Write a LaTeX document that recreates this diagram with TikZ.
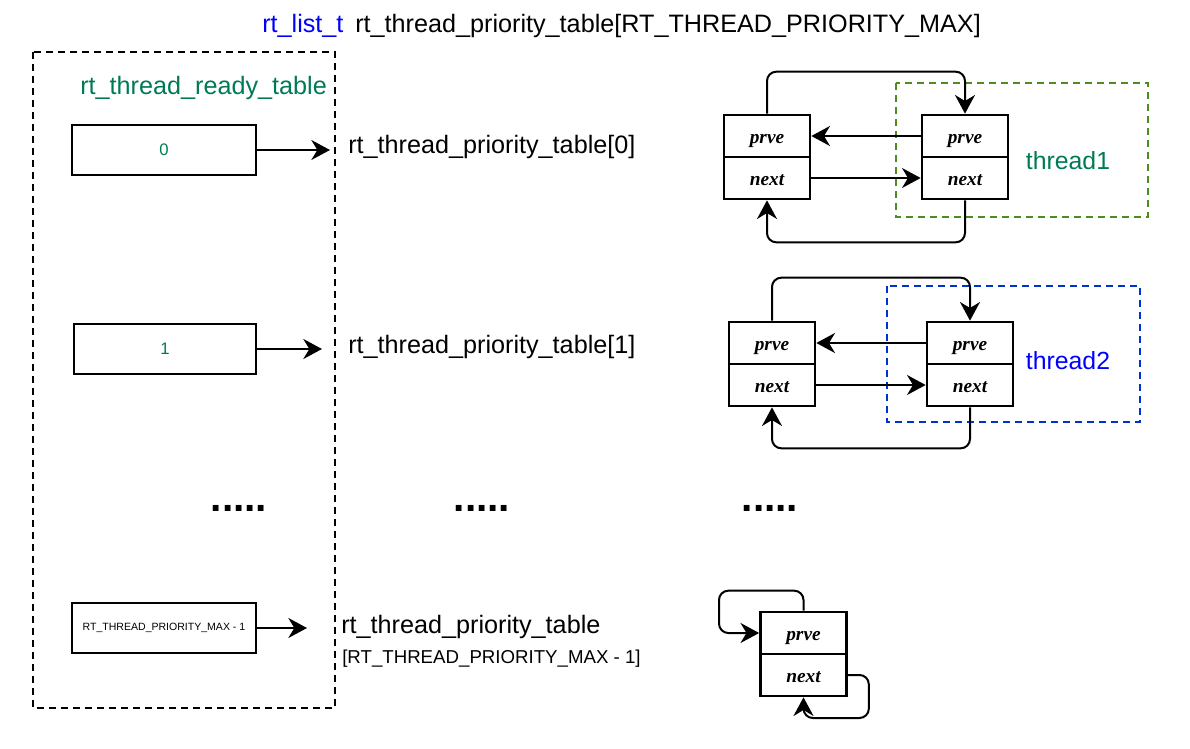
\documentclass[tikz,border=0pt]{standalone}
\usepackage{fontspec}
\setmainfont{Liberation Sans}
\newfontfamily\sketchfont{Liberation Serif}
\usetikzlibrary{arrows.meta}
\definecolor{tgreen}{RGB}{0,122,85}
\definecolor{lgreen}{RGB}{77,140,30}
\definecolor{dblue}{RGB}{0,51,204}
\definecolor{tblue}{RGB}{0,0,255}
\begin{document}
\begin{tikzpicture}[x=0.75pt,y=-0.75pt,
  arr/.style={-{Stealth[length=14pt,width=15pt,inset=4.5pt]}, line width=1.5pt},
  loopline/.style={arr, rounded corners=7pt},
  tab/.style={draw, line width=1.5pt, minimum width=138pt, minimum height=37.5pt, inner sep=0pt},
  cell/.style={draw, fill=white, line width=2pt, minimum width=64.5pt, minimum height=31.5pt, inner sep=0pt, text height=11pt, text depth=0pt, font=\sketchfont\bfseries\itshape\fontsize{14.5}{14}\selectfont},
  lbl/.style={inner sep=0pt, anchor=west, font=\fontsize{18.9}{20}\selectfont},
  dotsnode/.style={inner sep=0pt, font=\bfseries\fontsize{30.5}{30}\selectfont},
  frame/.style={line width=1.2pt, dash pattern=on 5pt off 4pt},
]
\useasboundingbox (0,0) rectangle (1190,749);

% title
\node[lbl, text=tblue] (tlist) at (262,26) {rt\_list\_t};
\node[lbl] (ttitle) at (355,26) {rt\_thread\_priority\_table[RT\_THREAD\_PRIORITY\_MAX]};

% ready table frame
\draw[frame] (33,52) rectangle (335,708);
\node[lbl, text=tgreen] (rdy) at (80,88) {rt\_thread\_ready\_table};

% table boxes
\node[tab, text=tgreen, font=\fontsize{12.5}{12}\selectfont] (t0) at (164,150) {0};
\node[tab, text=tgreen, font=\fontsize{12.5}{12}\selectfont, minimum width=136.5pt] (t1) at (165,349) {1};
\node[tab, font=\fontsize{7.9}{8}\selectfont] (tm) at (164,628) {RT\_THREAD\_PRIORITY\_MAX - 1};

\coordinate (a0) at (330,150);
\coordinate (a1) at (322,349);
\coordinate (am) at (307,628);
\draw[arr] (t0.east) -- (a0);
\draw[arr] (t1.east) -- (a1);
\draw[arr] (tm.east) -- (am);

\node[lbl] (L0) at (348,147) {rt\_thread\_priority\_table[0]};
\node[lbl] (L1) at (348,347) {rt\_thread\_priority\_table[1]};
\node[lbl] (Lm) at (341,627) {rt\_thread\_priority\_table};
\node[lbl, font=\fontsize{14}{16}\selectfont] (Lm2) at (342,659) {[RT\_THREAD\_PRIORITY\_MAX - 1]};

% dots
\node[dotsnode] (d1) at (239,508) {.....};
\node[dotsnode] (d2) at (482,508) {.....};
\node[dotsnode] (d3) at (770,508) {.....};

% thread frames
\draw[frame, draw=lgreen, line width=1.1pt, dash pattern=on 5.5pt off 3.5pt] (896,83) rectangle (1148,217);
\node[inner sep=0pt, text=tgreen, font=\fontsize{18.6}{20}\selectfont] (th1) at (1068,161) {thread1};
\draw[frame, draw=dblue, line width=1.1pt, dash pattern=on 5.5pt off 3.5pt] (887,286) rectangle (1140,422);
\node[inner sep=0pt, text=tblue, font=\fontsize{18.6}{20}\selectfont] (th2) at (1068,361) {thread2};

% group 1
\node[cell] (p1a) at (767,136) {prve};
\node[cell] (n1a) at (767,178) {next};
\node[cell] (p1b) at (965,136) {prve};
\node[cell] (n1b) at (965,178) {next};
\draw[arr] (p1b.west) -- (p1a.east);
\draw[arr] (n1a.east) -- (n1b.west);
\draw[loopline] (p1a.north) -- ++(0,-42) -| (p1b.north);
\draw[loopline] (n1b.south) -- ++(0,42) -| (n1a.south);

% group 2
\node[cell] (p2a) at (772,343) {prve};
\node[cell] (n2a) at (772,385) {next};
\node[cell] (p2b) at (970,343) {prve};
\node[cell] (n2b) at (970,385) {next};
\draw[arr] (p2b.west) -- (p2a.east);
\draw[arr] (n2a.east) -- (n2b.west);
\draw[loopline] (p2a.north) -- ++(0,-43) -| (p2b.north);
\draw[loopline] (n2b.south) -- ++(0,41) -| (n2a.south);

% group 3
\node[cell] (p3) at (803.5,633) {prve};
\node[cell] (n3) at (803.5,675) {next};
\draw[loopline] (p3.north) -- ++(0,-20) -- ++(-84.5,0) |- (p3.west);
\draw[loopline] (n3.east) -| ++(21,43) -| (n3.south);
\end{tikzpicture}
\end{document}
